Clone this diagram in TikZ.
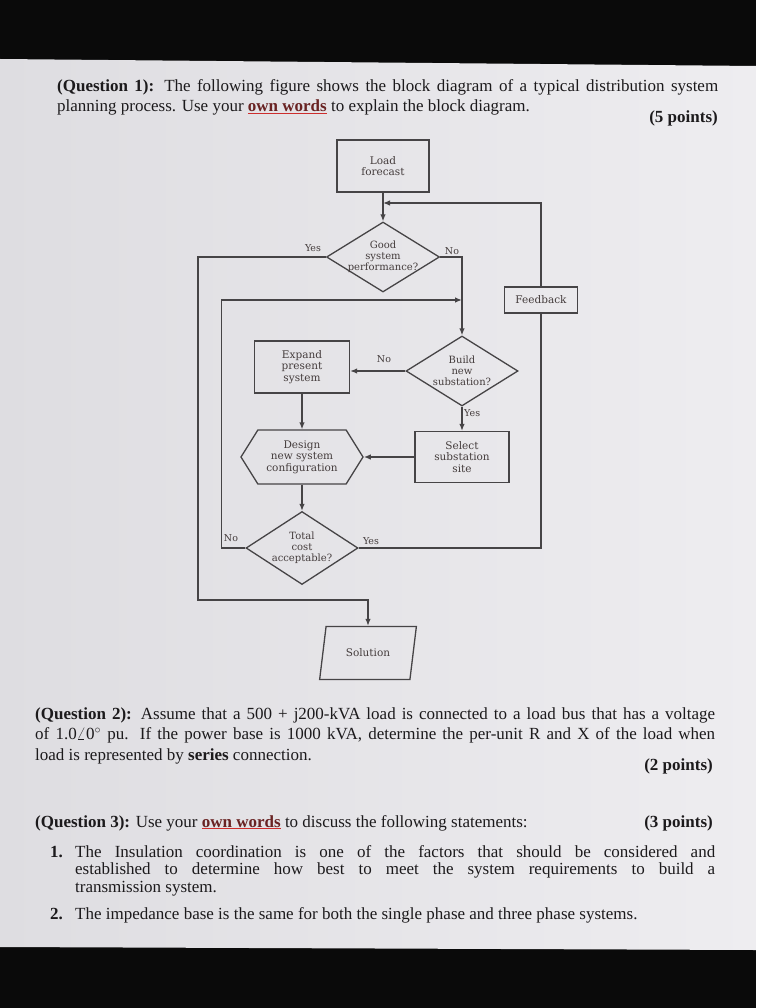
\documentclass[tikz,border=0pt]{standalone}
\usepackage{fontspec}
\setmainfont{Liberation Serif}
\newfontfamily\chartfont{DejaVu Serif}
\usepackage{xcolor}
\definecolor{pageleft}{RGB}{222,221,225}
\definecolor{pageright}{RGB}{238,237,240}
\definecolor{linegrey}{RGB}{70,68,70}
\definecolor{chartink}{RGB}{68,60,60}
\definecolor{inkblack}{RGB}{28,26,28}
\definecolor{markred}{RGB}{205,45,45}
\definecolor{wordred}{RGB}{105,35,35}
\usetikzlibrary{arrows.meta,shapes.geometric,shapes.symbols,calc}
\tikzset{
  box/.style={draw=linegrey,line width=1.3pt,align=center,font=\chartfont\fontsize{10.5}{11.5}\selectfont,text=chartink,inner sep=2pt},
  dec/.style={diamond,draw=linegrey,line width=1.3pt,inner sep=0pt},
  dectext/.style={align=center,font=\chartfont\fontsize{10}{11}\selectfont,text=chartink},
  hex/.style={box,signal,signal to=west and east,signal pointer angle=116},
  para/.style={box,trapezium,trapezium left angle=73,trapezium right angle=107,trapezium stretches=true},
  lab/.style={font=\chartfont\fontsize{9.5}{10}\selectfont,text=chartink,inner sep=1pt},
  arr/.style={-{Latex[length=7pt,width=5.5pt]},line width=1.3pt,draw=linegrey},
  line/.style={line width=1.3pt,draw=linegrey},
  qtext/.style={align=justify,font=\fontsize{17}{20}\selectfont,text=inkblack,inner sep=0pt},
  qmark/.style={font=\fontsize{17}{20}\selectfont\bfseries,text=inkblack,inner sep=0pt},
}
\newcommand{\ownwords}{{\color{markred}\underline{\textcolor{wordred}{\textbf{own words}}}}}

\begin{document}
\begin{tikzpicture}[x=1pt,y=-1pt]
  \useasboundingbox (0,0) rectangle (756,1008);
  % photo: black screen frame and the page
  \fill[black!96] (0,0) rectangle (756,1008);
  \shade[left color=pageleft,right color=pageright] (0,59) -- (756,66) -- (756,950) -- (0,947) -- cycle;

  % question 1
  \node[qtext,text width=661pt,anchor=north west,font=\fontsize{17}{20}\selectfont] (q1) at (57,79)
    {\textbf{(Question 1):} The following figure shows the block diagram of a typical distribution system\linebreak
     planning process. Use your \ownwords{} to explain the block diagram.};
  \node[qmark,anchor=base east] (q1pts) at (718,123) {(5 points)};

  % flowchart
  \node[box,minimum width=92pt,minimum height=52pt] (load) at (383,166) {Load\\forecast};
  \node[dec,minimum width=113pt,minimum height=70pt,label={[dectext]center:Good\\system\\performance?}] (perf) at (383,257) {};
  \coordinate (fbin) at (383,203);
  \node[box,minimum width=73pt,minimum height=26pt] (fb) at (541,300) {Feedback};
  \node[dec,minimum width=112pt,minimum height=70pt,label={[dectext]center:Build\\new\\substation?}] (build) at (462,371) {};
  \coordinate (loopin) at (462,300);
  \node[box,minimum width=95pt,minimum height=52pt] (expand) at (302,367) {Expand\\present\\system};
  \node[box,minimum width=94pt,minimum height=51pt] (select) at (462,457) {Select\\substation\\site};
  \node[hex,minimum width=122pt,minimum height=54pt] (design) at (302,457) {Design\\new system\\configuration};
  \node[dec,minimum width=112pt,minimum height=73pt,label={[dectext]center:Total\\cost\\acceptable?}] (cost) at (302,548) {};
  \coordinate (yesbend) at (198,600);
  \node[para,minimum width=97pt,minimum height=53pt] (sol) at (368,653) {Solution};

  \draw[arr] (load) -- (perf);
  \draw[arr] (fb.north) |- (fbin);
  \draw[arr] (perf.west) -| (yesbend) -| (sol.north);
  \draw[arr] (perf.east) -| (build.north);
  \draw[arr] (cost.west) -- ++(-24,0) |- (loopin);
  \draw[arr] (build.west) -- (expand.east |- build.west);
  \draw[arr] (build.south) -- (select.north);
  \draw[arr] (select.west) -- (design.east);
  \draw[arr] (expand.south) -- (design.north);
  \draw[arr] (design.south) -- (cost.north);
  \draw[line] (cost.east) -| (fb.south);

  \node[lab] (yes1) at (313,248) {Yes};
  \node[lab] (no1) at (452,251) {No};
  \node[lab] (no2) at (384,359) {No};
  \node[lab,anchor=west] (yes2) at (463,413) {Yes};
  \node[lab] (no3) at (231,538) {No};
  \node[lab] (yes3) at (371,541) {Yes};

  % question 2
  \node[qtext,text width=680pt,anchor=north west,font=\fontsize{17}{20.5}\selectfont] (q2) at (35,707)
    {\textbf{(Question 2):} Assume that a 500 + j200-kVA load is connected to a load bus that has a voltage\linebreak
     of 1.0$\angle$0$^\circ$ pu. If the power base is 1000 kVA, determine the per-unit R and X of the load when\linebreak
     load is represented by \textbf{series} connection.};
  \node[qmark,anchor=base east] (q2pts) at (713,770) {(2 points)};

  % question 3
  \node[qtext,anchor=base west] (q3) at (35,827)
    {\textbf{(Question 3):} Use your \ownwords{} to discuss the following statements:};
  \node[qmark,anchor=base east] (q3pts) at (713,827) {(3 points)};
  \node[qmark,anchor=base west] (n1) at (50,857) {1.};
  \node[qtext,text width=640pt,anchor=north west,font=\fontsize{17}{17.5}\selectfont] (s1) at (75,845)
    {The Insulation coordination is one of the factors that should be considered and\linebreak
     established to determine how best to meet the system requirements to build a\linebreak
     transmission system.};
  \node[qmark,anchor=base west] (n2) at (50,919) {2.};
  \node[qtext,anchor=base west] (s2) at (75,919)
    {The impedance base is the same for both the single phase and three phase systems.};
\end{tikzpicture}
\end{document}
